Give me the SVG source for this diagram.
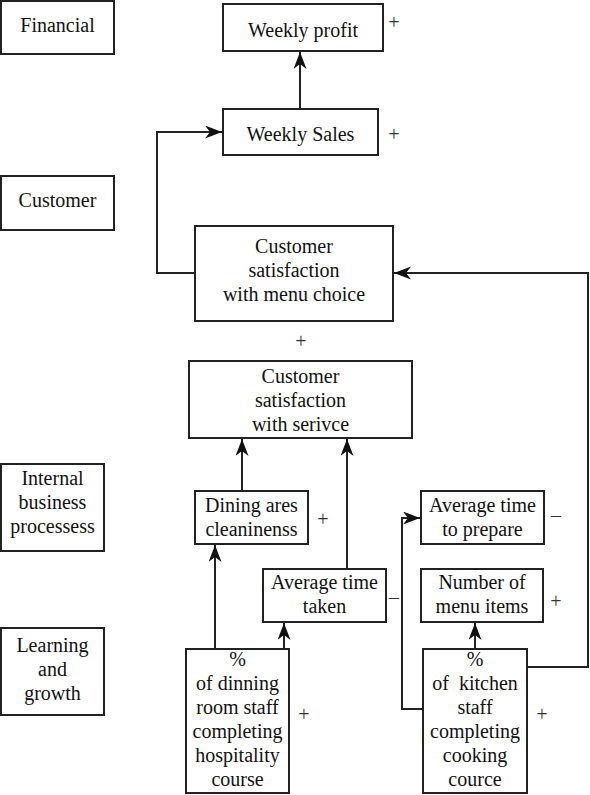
<svg xmlns="http://www.w3.org/2000/svg" width="590" height="795" viewBox="0 0 590 795">
<style>
rect.box{fill:#fff;stroke:#222;stroke-width:2}
text{font-size:20px;fill:#111;text-anchor:middle}
.sign{font-size:20px;fill:#333}
.conn path,.conn line{fill:none;stroke:#222;stroke-width:2}
</style>
<defs>
<marker id="arr" markerUnits="userSpaceOnUse" markerWidth="18" markerHeight="14" refX="17" refY="6.5" orient="auto">
<path d="M0,0 L17,6.5 L0,13 L5,6.5 z" fill="#111"/>
</marker>
</defs>
<g class="conn">
<line x1="300" y1="109" x2="300" y2="52" marker-end="url(#arr)"/>
<path d="M195,273 H157 V132 H222" marker-end="url(#arr)"/>
<path d="M527,667 H588 V273 H394" marker-end="url(#arr)"/>
<line x1="242" y1="491" x2="242" y2="439" marker-end="url(#arr)"/>
<line x1="347" y1="569" x2="347" y2="439" marker-end="url(#arr)"/>
<line x1="215" y1="649" x2="215" y2="545" marker-end="url(#arr)"/>
<line x1="284" y1="649" x2="284" y2="623" marker-end="url(#arr)"/>
<line x1="475" y1="649" x2="475" y2="623" marker-end="url(#arr)"/>
<path d="M423,709 H402 V518 H420" marker-end="url(#arr)"/>
</g>
<g font-family="Liberation Serif, Times New Roman, DejaVu Serif, serif">
<g id="financial"><rect class="box" x="1" y="1" width="113" height="53"/><text x="57.5" y="32">Financial</text></g>
<g id="customer"><rect class="box" x="1" y="176" width="113" height="54"/><text x="57.5" y="207">Customer</text></g>
<g id="internal"><rect class="box" x="1" y="464" width="103" height="87"/><text x="52.5" y="485">Internal</text><text x="52.5" y="509">business</text><text x="52.5" y="533">processess</text></g>
<g id="learning"><rect class="box" x="1" y="628" width="103" height="87"/><text x="52.5" y="652">Learning</text><text x="52.5" y="676">and</text><text x="52.5" y="700">growth</text></g>
<g id="weekly-profit"><rect class="box" x="223" y="4" width="160" height="47"/><text x="303" y="37">Weekly profit</text><text class="sign" x="394" y="29">+</text></g>
<g id="weekly-sales"><rect class="box" x="223" y="109" width="155" height="46"/><text x="300.5" y="141">Weekly Sales</text><text class="sign" x="394" y="141">+</text></g>
<g id="menu-choice"><rect class="box" x="195" y="226" width="198" height="95"/><text x="294" y="253">Customer</text><text x="294" y="277">satisfaction</text><text x="294" y="301">with menu choice</text><text class="sign" x="301" y="348">+</text></g>
<g id="service"><rect class="box" x="189" y="361" width="223" height="77"/><text x="300.5" y="383">Customer</text><text x="300.5" y="407">satisfaction</text><text x="300.5" y="431">with serivce</text></g>
<g id="dining-cleanliness"><rect class="box" x="195" y="491" width="113" height="53"/><text x="251.5" y="512">Dining ares</text><text x="251.5" y="536">cleaninenss</text><text class="sign" x="323" y="526">+</text></g>
<g id="avg-prepare"><rect class="box" x="421" y="491" width="123" height="53"/><text x="482.5" y="512">Average time</text><text x="482.5" y="536">to prepare</text><text class="sign" x="556" y="522">–</text></g>
<g id="avg-taken"><rect class="box" x="263" y="569" width="123" height="53"/><text x="324.5" y="589">Average time</text><text x="324.5" y="613">taken</text><text class="sign" x="394" y="604">–</text></g>
<g id="menu-items"><rect class="box" x="421" y="569" width="122" height="53"/><text x="482" y="589">Number of</text><text x="482" y="613">menu items</text><text class="sign" x="556" y="608">+</text></g>
<g id="dining-staff"><rect class="box" x="186" y="649" width="103" height="144"/><text x="237.5" y="666">%</text><text x="237.5" y="690">of dinning</text><text x="237.5" y="714">room staff</text><text x="237.5" y="738">completing</text><text x="237.5" y="762">hospitality</text><text x="237.5" y="786">course</text><text class="sign" x="304" y="721">+</text></g>
<g id="kitchen-staff"><rect class="box" x="423" y="649" width="104" height="144"/><text x="475" y="666">%</text><text x="475" y="690" style="white-space:pre" xml:space="preserve">of  kitchen</text><text x="475" y="714">staff</text><text x="475" y="738">completing</text><text x="475" y="762">cooking</text><text x="475" y="786">cource</text><text class="sign" x="542" y="721">+</text></g>
</g>
</svg>
